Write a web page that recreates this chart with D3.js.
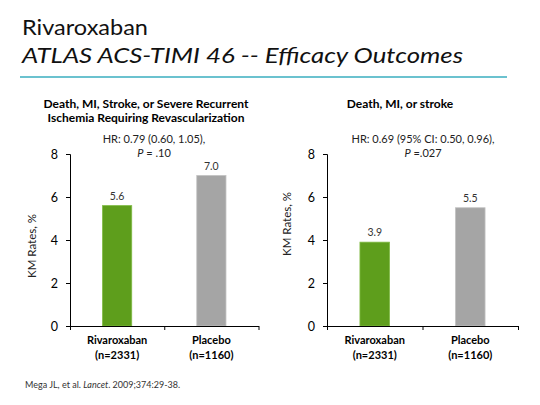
<!DOCTYPE html>
<html lang="en">
<head>
<meta charset="UTF-8">
<title>ATLAS ACS-TIMI 46 Efficacy Outcomes</title>
<script src="https://d3js.org/d3.v7.min.js"></script>
<style>
  body { margin: 0; background: #fff; }
  svg { display: block; font-family: Lato, "Open Sans", sans-serif; }
  .axis path, .axis line { stroke: #000; }
  .axis text { font-size: 12.5px; fill: #000; font-family: Lato, sans-serif; }
</style>
</head>
<body>
<svg id="chart" width="540" height="405"></svg>
<script>
// data
const groups = ['Rivaroxaban', 'Placebo'];
const groupN = ['(n=2331)', '(n=1160)'];
const compositeValues = [5.6, 7.0];
const deathMiStrokeValues = [3.9, 5.5];
const yTicks = [0, 2, 4, 6, 8];

const svg = d3.select('#chart');

// header
svg.append('text').attr('x', 22).attr('y', 35)
  .style('font-size', '22px').attr('fill', '#111')
  .attr('textLength', 126).attr('lengthAdjust', 'spacingAndGlyphs')
  .text('Rivaroxaban');
svg.append('text').attr('x', 22).attr('y', 63)
  .style('font-size', '22px').style('font-style', 'italic').attr('fill', '#111')
  .attr('textLength', 441).attr('lengthAdjust', 'spacingAndGlyphs')
  .text('ATLAS ACS-TIMI 46 -- Efficacy Outcomes');
svg.append('line').attr('x1', 20).attr('x2', 507).attr('y1', 77).attr('y2', 77)
  .attr('stroke', '#3aaebf').attr('stroke-width', 1.5);

function panel(opts) {
  const x = d3.scaleBand().domain(groups).range(opts.xRange)
    .paddingInner(0.69).paddingOuter(0.345);
  const y = d3.scaleLinear().domain([0, 8]).range([326, 154]);
  const edges = d3.scaleLinear().domain([0, groups.length]).range(opts.xRange);
  const g = svg.append('g');

  // title
  opts.title.forEach((t, i) => {
    g.append('text').attr('x', opts.titleX).attr('y', 108 + i * 14)
      .attr('text-anchor', 'middle').style('font-size', '12px').style('font-weight', 700)
      .text(t);
  });

  // HR annotation
  g.append('text').attr('x', opts.hrX).attr('y', 143)
    .attr('text-anchor', 'middle').style('font-size', '11px').attr('fill', '#222')
    .text(opts.hr);
  const p = g.append('text').attr('x', opts.hrX).attr('y', 157)
    .attr('text-anchor', 'middle').style('font-size', '11px').attr('fill', '#222');
  p.append('tspan').style('font-style', 'italic').text('P');
  p.append('tspan').text(opts.p);

  // bars
  g.selectAll('rect').data(opts.values).join('rect')
    .attr('x', (d, i) => x(groups[i]))
    .attr('y', d => y(d))
    .attr('width', x.bandwidth())
    .attr('height', d => y(0) - y(d))
    .attr('fill', (d, i) => i === 0 ? '#5e9e1c' : '#a5a5a5')
    .attr('stroke', (d, i) => i === 0 ? '#80bb45' : '#c2c2c2')
    .attr('stroke-width', 0.8);

  // value labels
  g.selectAll('.val').data(opts.values).join('text').attr('class', 'val')
    .attr('x', (d, i) => x(groups[i]) + x.bandwidth() / 2)
    .attr('y', d => y(d) - 6)
    .attr('text-anchor', 'middle').style('font-size', '10.5px').attr('fill', '#333')
    .text(d => d.toFixed(1));

  // axes
  g.append('g').attr('class', 'axis')
    .attr('transform', `translate(${opts.xRange[0]},0)`)
    .call(d3.axisLeft(y).tickValues(yTicks).tickSize(4).tickPadding(8));
  g.append('g').attr('class', 'axis')
    .attr('transform', `translate(0,${y(0)})`)
    .call(d3.axisBottom(edges).tickValues(d3.range(groups.length + 1)).tickSize(4).tickSizeOuter(0).tickFormat(''));

  // category labels
  groups.forEach((c, i) => {
    const cx = x(c) + x.bandwidth() / 2;
    g.append('text').attr('x', cx).attr('y', 344).attr('text-anchor', 'middle')
      .style('font-size', '11px').style('font-weight', 700).text(c);
    g.append('text').attr('x', cx).attr('y', 359).attr('text-anchor', 'middle')
      .style('font-size', '11px').style('font-weight', 700).text(groupN[i]);
  });

  // y label
  g.append('text')
    .attr('transform', `translate(${opts.yLabelX},${opts.yLabelY}) rotate(-90)`)
    .attr('text-anchor', 'middle').style('font-size', '11.5px').attr('fill', '#222')
    .text('KM Rates, %');
}

panel({
  xRange: [70, 258.5],
  values: compositeValues,
  title: ['Death, MI, Stroke, or Severe Recurrent', 'Ischemia Requiring Revascularization'],
  titleX: 146,
  hr: 'HR: 0.79 (0.60, 1.05),',
  p: ' = .10',
  hrX: 154,
  yLabelX: 36,
  yLabelY: 246
});

panel({
  xRange: [327, 518],
  values: deathMiStrokeValues,
  title: ['Death, MI, or stroke'],
  titleX: 400,
  hr: 'HR: 0.69 (95% CI: 0.50, 0.96),',
  p: ' =.027',
  hrX: 423,
  yLabelX: 291,
  yLabelY: 224
});

// source
const src = svg.append('text').attr('x', 25).attr('y', 388)
  .style('font-size', '9px').attr('fill', '#333');
src.append('tspan').text('Mega JL, et al. ');
src.append('tspan').style('font-style', 'italic').text('Lancet');
src.append('tspan').text('. 2009;374:29-38.');
</script>
</body>
</html>
